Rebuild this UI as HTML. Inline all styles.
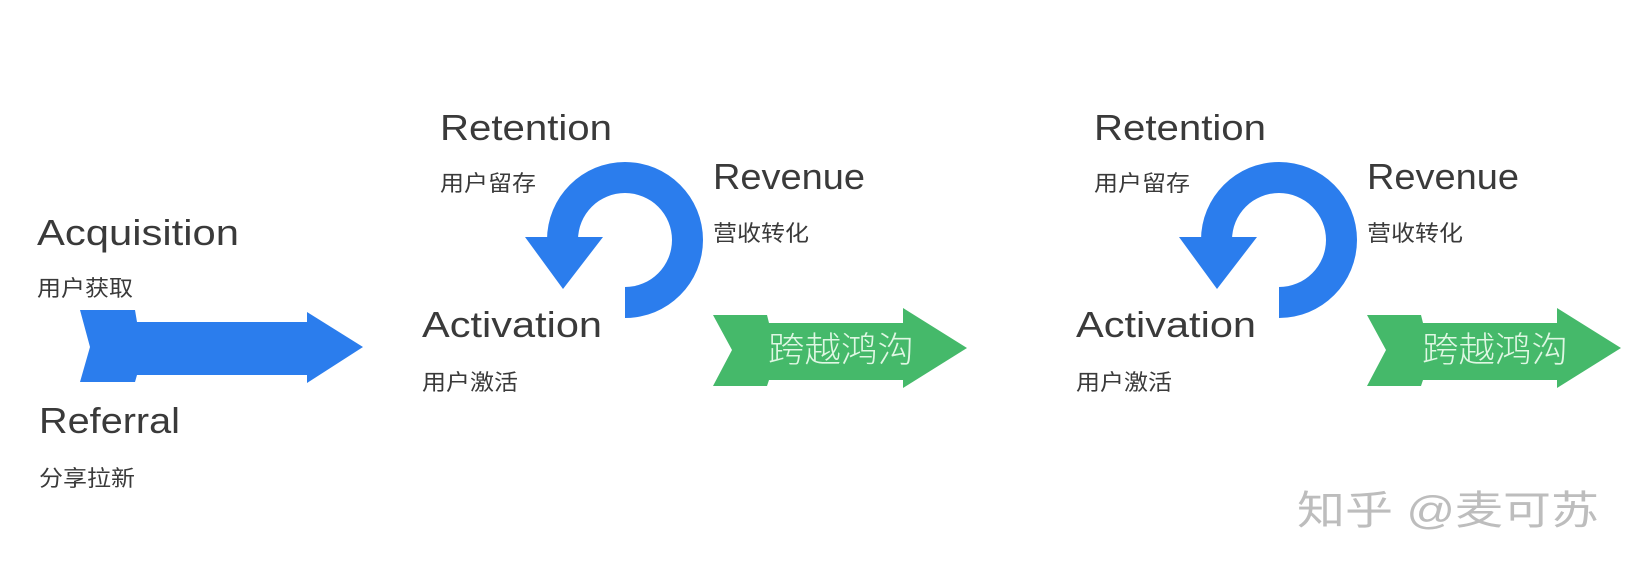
<!DOCTYPE html>
<html><head><meta charset="utf-8"><style>
html,body{margin:0;padding:0;background:#fff;}
svg{display:block;}
.en{font-family:"Liberation Sans","Noto Sans CJK SC",sans-serif;font-size:36px;fill:#3a3a3a;}
.cn{font-family:"Liberation Sans","Noto Sans CJK SC",sans-serif;font-size:22px;fill:#3a3a3a;}
.gt{font-family:"Liberation Sans","Noto Sans CJK SC",sans-serif;font-size:35px;fill:#dff7e3;font-weight:300;}
.wm{font-family:"Liberation Sans","Noto Sans CJK SC",sans-serif;font-size:40px;fill:#bdbdbd;}
</style></head><body>
<svg width="1640" height="574" viewBox="0 0 1640 574" xmlns="http://www.w3.org/2000/svg">
<defs>
<g id="grp">
  <text class="en" x="440" y="140" textLength="172" lengthAdjust="spacingAndGlyphs">Retention</text>
  <text class="cn" x="440" y="191" textLength="96" lengthAdjust="spacingAndGlyphs">用户留存</text>
  <text class="en" x="713" y="189" textLength="152" lengthAdjust="spacingAndGlyphs">Revenue</text>
  <text class="cn" x="713" y="241" textLength="96" lengthAdjust="spacingAndGlyphs">营收转化</text>
  <text class="en" x="422" y="337" textLength="180" lengthAdjust="spacingAndGlyphs">Activation</text>
  <text class="cn" x="422" y="390" textLength="96" lengthAdjust="spacingAndGlyphs">用户激活</text>
  <path d="M625,318 A78,78 0 1 0 547,240 L578,240 A47,47 0 1 1 625,287 Z" fill="#2b7ded"/>
  <polygon points="525,237 603,237 563,289" fill="#2b7ded"/>
  <polygon points="713,315 767,315 769,323 903,323 903,308 967,348 903,388 903,380 769,380 767,386 713,386 732,350" fill="#45b96a"/>
  <text class="gt" x="768" y="362" textLength="146" lengthAdjust="spacingAndGlyphs">跨越鸿沟</text>
</g>
</defs>
<text class="en" x="37" y="245" textLength="202" lengthAdjust="spacingAndGlyphs">Acquisition</text>
<text class="cn" x="37" y="296" textLength="96" lengthAdjust="spacingAndGlyphs">用户获取</text>
<text class="en" x="39" y="433" textLength="141" lengthAdjust="spacingAndGlyphs">Referral</text>
<text class="cn" x="39" y="486" textLength="96" lengthAdjust="spacingAndGlyphs">分享拉新</text>
<path d="M80,310 L135,310 L137,322 L307,322 L307,312 L363,347 L307,383 L307,375 L137,375 L135,382 L80,382 L90,347 Z" fill="#2b7ded"/>
<use href="#grp"/>
<use href="#grp" transform="translate(654,0)"/>
<text class="wm" x="1297" y="524" textLength="302" lengthAdjust="spacingAndGlyphs">知乎 @麦可苏</text>
</svg>
</body></html>
